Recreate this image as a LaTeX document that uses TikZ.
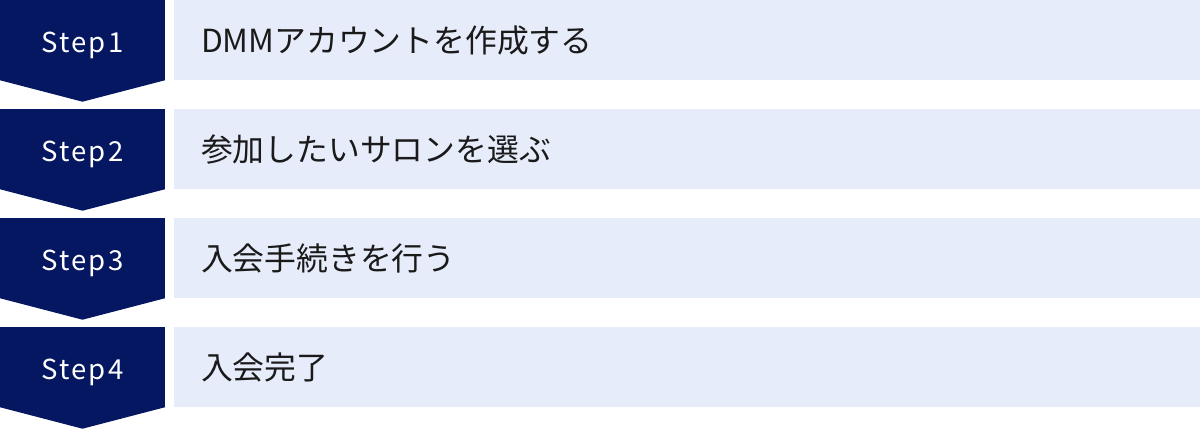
\documentclass[tikz,border=0pt]{standalone}
\usepackage{fontspec}
\setmainfont{Noto Sans CJK JP}
\usetikzlibrary{positioning, calc}
\definecolor{stepnavy}{RGB}{5, 23, 97}
\definecolor{boxblue}{RGB}{230, 236, 250}
\definecolor{txtblack}{RGB}{26, 26, 26}

\begin{document}
\begin{tikzpicture}[x=1pt, y=-1pt]
            \tikzstyle{stepbox} = [rectangle, fill=stepnavy, text=white, inner sep=0pt, minimum width=165pt, minimum height=80pt, text height=24pt, text depth=0pt, font=\fontsize{27.5}{30}\selectfont\addfontfeature{LetterSpace=8}]
            \tikzstyle{textbox} = [rectangle, fill=boxblue, text=txtblack, inner xsep=27pt, inner ysep=0pt, text width=972pt, minimum height=80pt, text height=25pt, text depth=0pt, align=left, font=\fontsize{31.8}{34}\selectfont]
            \tikzstyle{tip} = [fill=stepnavy]
            
            \useasboundingbox (0,0) rectangle (1200,429);
            
            \node[stepbox] (s1) at (82.5,40) {Step1};
            \node[stepbox] (s2) at (82.5,149) {Step2};
            \node[stepbox] (s3) at (82.5,258) {Step3};
            \node[stepbox] (s4) at (82.5,367) {Step4};
            
            \node[textbox] (b1) at (687,40) {DMMアカウントを作成する};
            \node[textbox] (b2) at (687,149) {参加したいサロンを選ぶ};
            \node[textbox] (b3) at (687,258) {入会手続きを行う};
            \node[textbox] (b4) at (687,367) {入会完了};
            
            \fill[tip] (s1.south west) -- (s1.south east) -- ($(s1.south)+(0,21.5)$) -- cycle;
            \fill[tip] (s2.south west) -- (s2.south east) -- ($(s2.south)+(0,21.5)$) -- cycle;
            \fill[tip] (s3.south west) -- (s3.south east) -- ($(s3.south)+(0,21.5)$) -- cycle;
            \fill[tip] (s4.south west) -- (s4.south east) -- ($(s4.south)+(0,21.5)$) -- cycle;
        \end{tikzpicture}
\end{document}
